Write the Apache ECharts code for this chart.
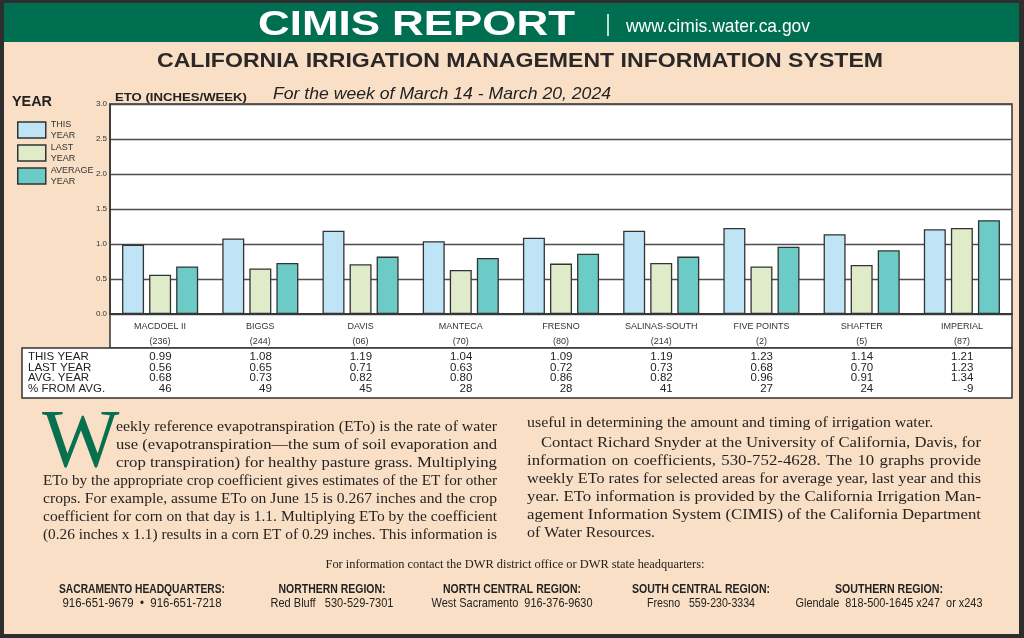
<!DOCTYPE html>
<html><head><meta charset="utf-8">
<script src="https://cdn.jsdelivr.net/npm/echarts@6/dist/echarts.min.js"></script>
<style>html,body{margin:0;padding:0;background:#2e2e2e;}#c{width:1024px;height:638px;}</style>
</head><body><div id="c"></div>
<script>
// ---- data ----
const categories = ['MACDOEL II','BIGGS','DAVIS','MANTECA','FRESNO','SALINAS-SOUTH','FIVE POINTS','SHAFTER','IMPERIAL'];
const stationIds = ['236','244','06','70','80','214','2','5','87'];
const thisYear = [0.99,1.08,1.19,1.04,1.09,1.19,1.23,1.14,1.21];
const lastYear = [0.56,0.65,0.71,0.63,0.72,0.73,0.68,0.70,1.23];
const avgYear  = [0.68,0.73,0.82,0.80,0.86,0.82,0.96,0.91,1.34];
const pctFromAvg = [46,49,45,28,28,41,27,24,-9];
const seriesNames = ['THIS YEAR','LAST YEAR','AVERAGE YEAR'];
const rowLabels = ['THIS YEAR','LAST YEAR','AVG. YEAR','% FROM AVG.'];
const yMin = 0, yMax = 3, yStep = 0.5;

const SANS = '"Liberation Sans", Arial, Helvetica, sans-serif';
const SERIF = '"Liberation Serif", "Times New Roman", serif';
const INK = '#262322';

const cv = document.createElement('canvas').getContext('2d');
function measure(text, size, family, weight, style) {
  cv.font = (style||'normal') + ' ' + (weight||'normal') + ' ' + size + 'px ' + family;
  return cv.measureText(text).width;
}
// text fitted to a given width (left or center anchored)
function fitText(text, o) {
  const w = measure(text, o.size, o.family, o.weight, o.style);
  const sx = o.w ? o.w / w : 1;
  return {
    type: 'text', z: 50,
    x: o.cx !== undefined ? o.cx : o.x, y: o.y, scaleX: sx,
    style: { text: text, fontSize: o.size, fontFamily: o.family, fontWeight: o.weight||'normal',
      fontStyle: o.style||'normal', fill: o.fill||INK,
      align: o.cx !== undefined ? 'center' : 'left', verticalAlign: 'middle' }
  };
}
// justified paragraph lines -> word elements
function justified(lines, size, family, fill) {
  const els = [];
  const sp = measure(' ', size, family);
  lines.forEach(function (ln) {
    const words = ln.t.split(' ');
    const ws = words.map(function (w) { return measure(w, size, family); });
    const sum = ws.reduce(function (a, b) { return a + b; }, 0);
    const natural = sum + sp * (words.length - 1);
    let sx = 1.06, gap = sp * 1.06;
    if (ln.j && words.length > 1) {
      sx = Math.max(0.9, Math.min(1.12, (ln.r - ln.x) / natural));
      gap = (ln.r - ln.x - sum * sx) / (words.length - 1);
    }
    let x = ln.x;
    words.forEach(function (w, i) {
      els.push({ type: 'text', z: 50, x: x, y: ln.y, scaleX: sx,
        style: { text: w, fontSize: size, fontFamily: family, fill: fill, align: 'left', verticalAlign: 'middle' } });
      x += ws[i] * sx + gap;
    });
  });
  return els;
}

const leftLines = [
  { t: 'eekly reference evapotranspiration (ETo) is the rate of water', x: 116, r: 497, y: 427, j: true },
  { t: 'use (evapotranspiration\u2014the sum of soil evaporation and', x: 116, r: 497, y: 445, j: true },
  { t: 'crop transpiration) for healthy pasture grass. Multiplying', x: 116, r: 497, y: 463, j: true },
  { t: 'ETo by the appropriate crop coefficient gives estimates of the ET for other', x: 43, r: 497, y: 481, j: true },
  { t: 'crops. For example, assume ETo on June 15 is 0.267 inches and the crop', x: 43, r: 497, y: 499, j: true },
  { t: 'coefficient for corn on that day is 1.1. Multiplying ETo by the coefficient', x: 43, r: 497, y: 517, j: true },
  { t: '(0.26 inches x 1.1) results in a corn ET of 0.29 inches. This information is', x: 43, r: 497, y: 535, j: true }
];
const rightLines = [
  { t: 'useful in determining the amount and timing of irrigation water.', x: 527, r: 981, y: 423, j: false },
  { t: 'Contact Richard Snyder at the University of California, Davis, for', x: 541, r: 981, y: 443, j: true },
  { t: 'information on coefficients, 530-752-4628. The 10 graphs provide', x: 527, r: 981, y: 461, j: true },
  { t: 'weekly ETo rates for selected areas for average year, last year and this', x: 527, r: 981, y: 479, j: true },
  { t: 'year. ETo information is provided by the California Irrigation Man-', x: 527, r: 981, y: 497, j: true },
  { t: 'agement Information System (CIMIS) of the California Department', x: 527, r: 981, y: 515, j: true },
  { t: 'of Water Resources.', x: 527, r: 981, y: 533, j: false }
];

const footer = [
  ['SACRAMENTO HEADQUARTERS:', '916-651-9679  \u2022  916-651-7218', 142, 166, 159],
  ['NORTHERN REGION:', 'Red Bluff   530-529-7301', 332, 107, 123],
  ['NORTH CENTRAL REGION:', 'West Sacramento  916-376-9630', 512, 138, 161],
  ['SOUTH CENTRAL REGION:', 'Fresno   559-230-3334', 701, 138, 108],
  ['SOUTHERN REGION:', 'Glendale  818-500-1645 x247  or x243', 889, 108, 187]
];

let graphics = [
  { type: 'rect', z: -20, shape: { x: 4, y: 3, width: 1015, height: 631 }, style: { fill: '#f9dfc5' } },
  { type: 'rect', z: -19, shape: { x: 4, y: 3, width: 1015, height: 39 }, style: { fill: '#006f51' } },
  { type: 'rect', z: -18, shape: { x: 110, y: 104, width: 902, height: 210 }, style: { fill: '#ffffff', stroke: '#333', lineWidth: 1.5 } },
  { type: 'rect', z: -18, shape: { x: 110, y: 314, width: 902, height: 34 }, style: { fill: '#ffffff', stroke: '#333', lineWidth: 1.5 } },
  { type: 'rect', z: -18, shape: { x: 22, y: 348, width: 990, height: 50 }, style: { fill: '#ffffff', stroke: '#333', lineWidth: 1.5 } },
  { type: 'line', z: 50, shape: { x1: 608, y1: 14, x2: 608, y2: 36 }, style: { stroke: '#ffffff', lineWidth: 1.5 } },
  fitText('CIMIS REPORT', { x: 258, w: 317, y: 25, size: 35, family: SANS, weight: 'bold', fill: '#ffffff' }),
  fitText('www.cimis.water.ca.gov', { x: 626, w: 184, y: 27, size: 19, family: SANS, fill: '#ffffff' }),
  fitText('CALIFORNIA IRRIGATION MANAGEMENT INFORMATION SYSTEM', { x: 157, w: 726, y: 61, size: 21, family: SANS, weight: 'bold', fill: '#2b2827' }),
  fitText('For the week of March 14 - March 20, 2024', { x: 273, w: 338, y: 94, size: 16.5, family: SANS, style: 'italic', fill: '#222' }),
  fitText('ETO (INCHES/WEEK)', { x: 115, w: 132, y: 98, size: 11.5, family: SANS, weight: 'bold', fill: '#222' }),
  fitText('YEAR', { x: 12, w: 40, y: 102, size: 14, family: SANS, weight: 'bold', fill: '#222' }),
  { type: 'text', z: 50, x: 28, y: 352,
    style: { text: rowLabels.join('\n'), fontSize: 11.5, lineHeight: 10.4, fontFamily: SANS, fill: '#222', align: 'left', verticalAlign: 'top' } },
  { type: 'text', z: 50, x: 42, y: 444,
    style: { text: 'W', fontSize: 82, fontFamily: SERIF, fill: '#08704f', align: 'left', verticalAlign: 'middle' } },
  fitText('For information contact the DWR district office or DWR state headquarters:', { cx: 515, w: 379, y: 565, size: 13, family: SERIF, fill: '#222' })
];
footer.forEach(function (f) {
  graphics.push(fitText(f[0], { cx: f[2], w: f[3], y: 590, size: 12, family: SANS, weight: 'bold', fill: '#222' }));
  graphics.push(fitText(f[1], { cx: f[2], w: f[4], y: 604, size: 12, family: SANS, fill: '#222' }));
});
graphics = graphics.concat(justified(leftLines, 15, SERIF, INK), justified(rightLines, 15, SERIF, INK));

const barStyle = function (c) { return { color: c, borderColor: '#333', borderWidth: 1.3 }; };
const option = {
  backgroundColor: '#2e2e2e',
  animation: false,
  grid: { left: 110, right: 12, top: 104, height: 210 },
  legend: {
    data: seriesNames, orient: 'vertical', left: 12, top: 114, itemWidth: 28, itemHeight: 16, itemGap: 1,
    icon: 'rect', selectedMode: false,
    formatter: function (n) { return n.replace(' ', '\n'); },
    textStyle: { fontSize: 9, lineHeight: 11, color: '#333', fontFamily: SANS },
    itemStyle: { borderColor: '#333', borderWidth: 1.5 }
  },
  xAxis: [
    { type: 'category', data: categories,
      axisLine: { lineStyle: { color: '#333', width: 1.5 } },
      axisTick: { inside: true, length: 5, lineStyle: { color: '#333', width: 1.2 } },
      axisLabel: { interval: 0, margin: 5, fontSize: 9, lineHeight: 15, color: '#333', fontFamily: SANS,
        formatter: function (v, i) { return v + '\n(' + stationIds[i] + ')'; } } },
    { type: 'category', data: categories, position: 'bottom',
      axisLine: { show: false },
      axisTick: { length: 84, lineStyle: { color: '#333', width: 1.5 } },
      axisLabel: { show: false } },
    { type: 'category', data: categories, position: 'bottom',
      axisLine: { show: false }, axisTick: { show: false },
      axisLabel: { interval: 0, margin: 38,
        formatter: function (v, i) {
          return ['{v|' + thisYear[i].toFixed(2) + '}', '{v|' + lastYear[i].toFixed(2) + '}',
                  '{v|' + avgYear[i].toFixed(2) + '}', '{v|' + pctFromAvg[i] + '}'].join('\n');
        },
        rich: { v: { width: 23, align: 'right', fontSize: 11.5, lineHeight: 10.4, color: '#222', fontFamily: SANS } } } }
  ],
  yAxis: {
    type: 'value', min: yMin, max: yMax, interval: yStep,
    axisLine: { show: true, lineStyle: { color: '#333', width: 1.5 } },
    axisTick: { show: false },
    splitLine: { lineStyle: { color: '#4d4d4d', width: 1.3 } },
    axisLabel: { margin: 3, fontSize: 8, color: '#333', fontFamily: SANS, formatter: function (v) { return v.toFixed(1); } }
  },
  series: [
    { name: seriesNames[0], type: 'bar', data: thisYear, barWidth: 22, barGap: '23%', itemStyle: barStyle('#bfe4f6') },
    { name: seriesNames[1], type: 'bar', data: lastYear, barWidth: 22, barGap: '23%', itemStyle: barStyle('#dfebc9') },
    { name: seriesNames[2], type: 'bar', data: avgYear, barWidth: 22, barGap: '23%', itemStyle: barStyle('#6ccac7') }
  ],
  graphic: { elements: graphics }
};
const chart = echarts.init(document.getElementById('c'));
chart.setOption(option);
</script></body></html>
